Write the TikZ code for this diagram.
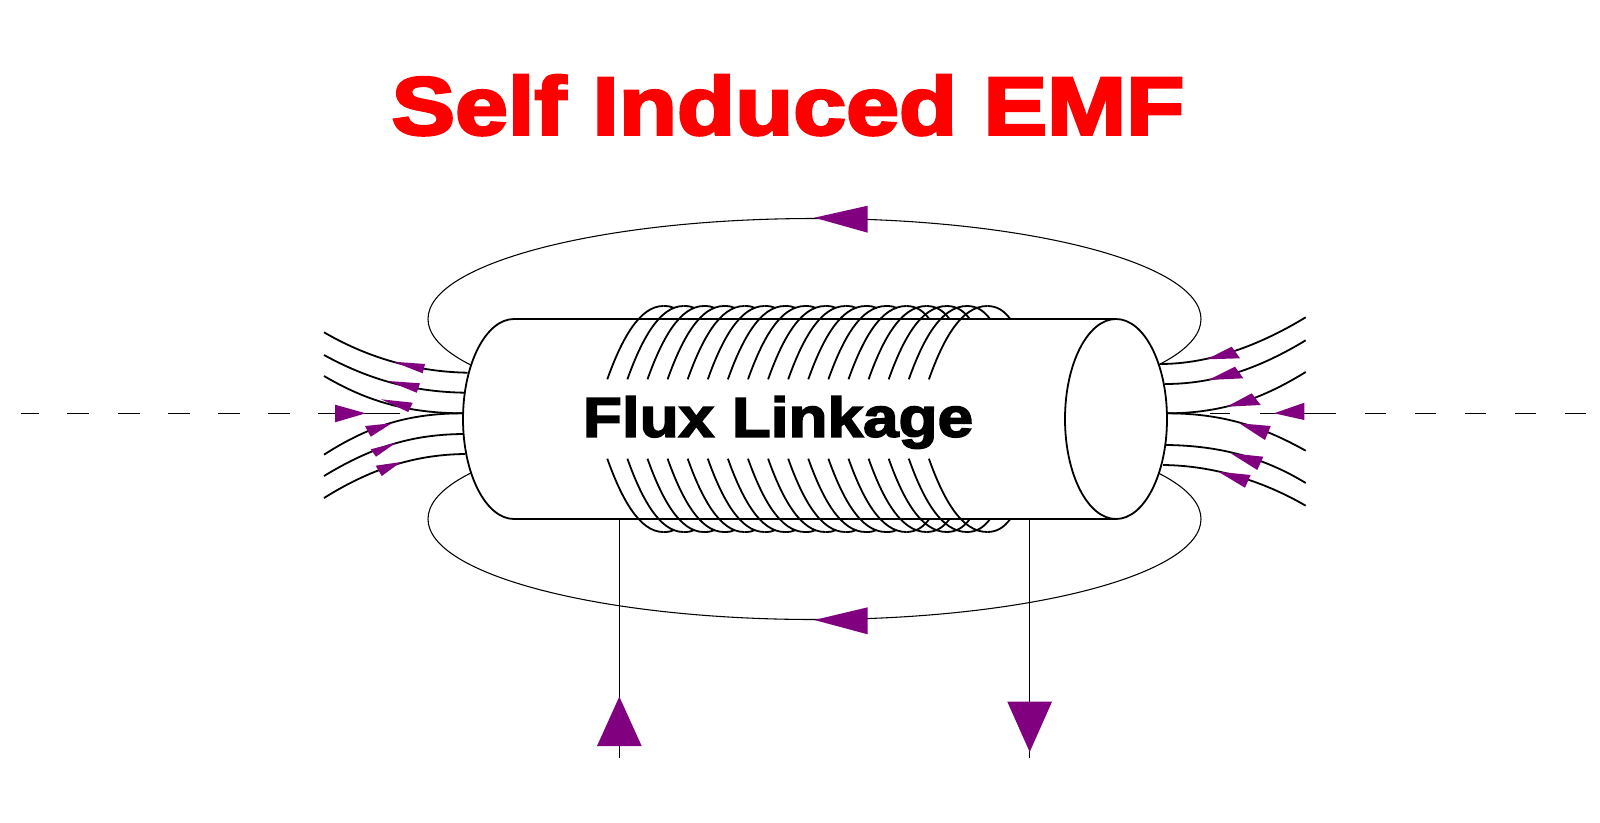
\documentclass[tikz,border=0pt]{standalone}
\usepackage{fontspec}
\newfontfamily\titlefont[FakeBold=3.6,FakeStretch=1.16]{Liberation Sans Bold}
\newfontfamily\labelfont[FakeBold=3,FakeStretch=1.14]{Liberation Sans Bold}
\definecolor{headpurple}{HTML}{800080}
\definecolor{titlered}{HTML}{FF0000}
\tikzset{
  thinline/.style={draw=black,line width=0.8pt},
  heavyline/.style={draw=black,line width=1.35pt},
  headfill/.style={fill=headpurple},
}
\begin{document}
\begin{tikzpicture}[x=0.75pt,y=-0.75pt]
\useasboundingbox (0,0) rectangle (1600,822);
% axis dashes
\foreach \a/\b in {20.7/39,67.3/89,117.7/139.5,167.7/189.5,218/239.5,268/290,318/400,1210/1230,1260/1336,1365/1386,1415/1436,1465/1486,1515/1536,1565/1586}
  \draw[thinline] (\a,413.3) -- (\b,413.3);
% return loops
\draw[thinline] (814.5,319) ellipse [x radius=386.5, y radius=100.5];
\draw[thinline] (814.5,519) ellipse [x radius=386.5, y radius=100.5];
% terminals
\coordinate (termAtop) at (619.3,519); \coordinate (termAend) at (619.3,758.3);
\coordinate (termBtop) at (1029.7,519); \coordinate (termBend) at (1029.7,758.3);
% cylinder body
\fill[white] (514,419) ellipse [x radius=51, y radius=100];
\fill[white] (514,319) rectangle (1116,519);
\fill[white] (1116,419) ellipse [x radius=51, y radius=100];
\draw[thinline] (termAtop) -- (termAend);
\draw[thinline] (termBtop) -- (termBend);
\draw[heavyline] (514,319) -- (1116,319);
\draw[heavyline] (514,519) -- (1116,519);
\draw[heavyline] (1116,419) ellipse [x radius=51, y radius=100];
\draw[heavyline] (514,319) .. controls (486,319) and (463,364) .. (463,419) .. controls (463,474) and (486,519) .. (514,519);
% flux lines
\draw[heavyline] (324,332.3) .. controls (375,362) and (425,372) .. (467.7,372.7);
\draw[heavyline] (324,355) .. controls (375,383) and (420,392) .. (465,392.7);
\draw[heavyline] (324,376) .. controls (365,400) and (405,413.3) .. (463.5,413.3);
\draw[heavyline] (324,454.7) .. controls (370,425) and (410,413.3) .. (463.5,413.3);
\draw[heavyline] (324,476) .. controls (375,445) and (415,434.5) .. (463,434);
\draw[heavyline] (324,498) .. controls (375,466) and (420,454.5) .. (465,454);
\draw[heavyline] (1305.7,317.3) .. controls (1260,345) and (1210,364) .. (1160,364);
\draw[heavyline] (1305.7,340.3) .. controls (1260,368) and (1215,384) .. (1165,384);
\draw[heavyline] (1305.7,372) .. controls (1265,397) and (1225,413.3) .. (1167,413.3);
\draw[heavyline] (1305.7,450.7) .. controls (1265,428) and (1225,413.3) .. (1167,413.3);
\draw[heavyline] (1305.7,483) .. controls (1265,458) and (1220,445.5) .. (1166,445);
\draw[heavyline] (1305.7,505.7) .. controls (1265,482) and (1215,465.5) .. (1163,465);
% coil windings
\foreach \i in {0,...,16}{
  \pgfmathsetmacro{\s}{607.3+20.1*\i}
  \pgfmathsetmacro{\p}{\s+56+0.15*\i}
  \draw[heavyline] (\s,379.3) .. controls (\s+14,340) and (\s+32,306) .. (\p,306);
  \draw[heavyline] (\s,458.7) .. controls (\s+14,498) and (\s+32,532) .. (\p,532);
  \ifnum\i<12
    \draw[heavyline] (\p,306) .. controls (\p+5,306) and (\p+8,306.5) .. (\p+11,308);
    \draw[heavyline] (\p,532) .. controls (\p+5,532) and (\p+8,531.5) .. (\p+11,530);
  \else
    \draw[heavyline] (\p,306) .. controls (\p+10,306) and (\p+17,311) .. (\p+23,319);
    \draw[heavyline] (\p,532) .. controls (\p+10,532) and (\p+17,527) .. (\p+23,519);
  \fi
}
% arrowheads
\foreach \t/\u/\v in {
  {393.3,361.7}/{425,364}/{422.7,373.3},
  {388.3,381}/{420,383.3}/{416.7,392.7},
  {381,399.3}/{412.7,402.7}/{408.3,412},
  {365.7,413.3}/{335,404.7}/{335,422.3},
  {391.7,423.3}/{365,426}/{370.7,436.7},
  {396,442.7}/{370.7,449.3}/{376,456.7},
  {401,462}/{375.7,465.7}/{381.7,476},
  {1206.7,359.3}/{1231.7,346.7}/{1240,358.3},
  {1208.3,380}/{1235,366.7}/{1243.3,378.3},
  {1226.7,406.7}/{1251.7,393.3}/{1260.7,405},
  {1274,413.3}/{1304.3,402.7}/{1304.3,420},
  {1239.3,423.3}/{1270.7,426}/{1265,440},
  {1230.7,453.3}/{1263.3,456.7}/{1257.3,470},
  {1218.3,471.7}/{1250.7,475}/{1245,487.7},
  {814.3,217.7}/{867.7,205.7}/{867.7,232.7},
  {814.3,620}/{867.7,607.3}/{867.7,634.3},
  {619.3,696.7}/{597,746}/{641.7,746},
  {1029.7,752}/{1007.3,701.7}/{1052,701.7}}
  \fill[headfill] (\t) -- (\u) -- (\v) -- cycle;
% texts
\node[anchor=base,inner sep=0pt,text=titlered] (title) at (788,134.5) {\titlefont\fontsize{61.5pt}{70pt}\selectfont Self Induced EMF};
\node[anchor=base,inner sep=0pt,text=black] (fluxlabel) at (778,436.7) {\labelfont\fontsize{42pt}{48pt}\selectfont Flux Linkage};
\end{tikzpicture}
\end{document}
